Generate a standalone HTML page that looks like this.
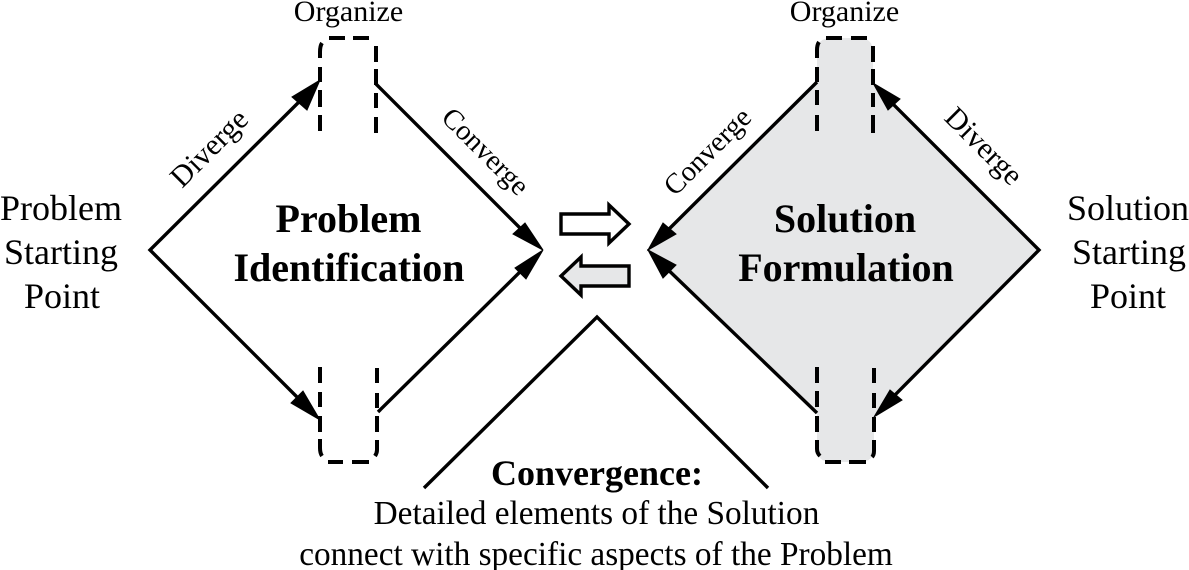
<!DOCTYPE html>
<html><head><meta charset="utf-8"><style>
html,body{margin:0;padding:0;background:#fff}
svg{display:block}
text{font-family:"Liberation Serif",serif;fill:#000}
</style></head><body>
<svg width="1189" height="570" viewBox="0 0 1189 570" xmlns="http://www.w3.org/2000/svg">
<!-- right fill -->
<path d="M648 250L817 82V52Q817 38 831 38H859Q873 38 873 52V84L1039 250L874 416V448Q874 462 860 462H831Q817 462 817 448V413Z" fill="#e6e7e8"/>
<!-- lines -->
<g fill="none" stroke="#000" stroke-width="3.4">
<path d="M310 91L150 250L310 410"/>
<path d="M376 84L530 238M530 262L378 412"/>
<path d="M817 82L660 238M660 262L817 413"/>
<path d="M885 96L1039 250L886 404"/>
<path d="M424 488L597 317L768 488"/>
</g>
<!-- arrowheads -->
<g fill="#000" stroke="#000" stroke-width="1" stroke-linejoin="miter">
<path d="M320 80L292 97L307 110Z"/>
<path d="M320 420L291 403L303 391Z"/>
<path d="M543 250L513 234L525 223Z"/>
<path d="M543 250L515 268L526 279Z"/>
<path d="M648 250L663 223L676 234Z"/>
<path d="M648 250L676 265L663 278Z"/>
<path d="M873 83L900 99L888 110Z"/>
<path d="M874 417L890 390L902 400Z"/>
</g>
<!-- dashed -->
<g fill="none" stroke="#000" stroke-width="4">
<path d="M320 67V82M320 90V107M320 115V131M320 58V52Q320 46 322 43"/>
<path d="M329 38H345M353 38H369"/>
<path d="M376 46V62M376 69V85M376 93V108M376 117V133"/>
<path d="M320 367V383M320 392V407M320 416V432M320 439V448Q320 453 322 456"/>
<path d="M328 462H343M352 462H369"/>
<path d="M377 368V383M377 393V408M377 416V432M377 440V450Q377 453 375 456"/>
<path d="M817 67V82M817 90V105M817 115V131M817 58V50Q817 45 819 42"/>
<path d="M826 38H842M851 38H867"/>
<path d="M873 46V62M873 69V85M873 93V107M873 115V133"/>
<path d="M817 367V383M817 391V407M817 416V432M817 440V449Q817 453 820 456"/>
<path d="M825 462H841M849 462H866"/>
<path d="M874 368V383M874 393V408M874 417V432M874 440V451Q874 455 872 457"/>
</g>
<!-- block arrows -->
<path d="M561 214H609V205L629 224L609 243V234H561Z" fill="#fff" stroke="#000" stroke-width="3.4"/>
<path d="M629 266H581V257L561 276L581 295V286H629Z" fill="#e6e7e8" stroke="#000" stroke-width="3.4"/>
<!-- text -->
<g font-size="36" text-anchor="middle">
<text x="61" y="220">Problem</text>
<text x="61" y="264">Starting</text>
<text x="62" y="308">Point</text>
<text x="1128" y="220">Solution</text>
<text x="1129" y="264">Starting</text>
<text x="1128" y="308">Point</text>
</g>
<g font-size="30" text-anchor="middle">
<text x="348.5" y="21">Organize</text>
<text x="844.5" y="21">Organize</text>
<text transform="translate(216,155) rotate(-45)">Diverge</text>
<text transform="translate(977,153) rotate(45)">Diverge</text>
</g>
<g font-size="28.5" text-anchor="middle">
<text transform="translate(479,158) rotate(45)">Converge</text>
<text transform="translate(714,158) rotate(-45)">Converge</text>
</g>
<g font-size="40" font-weight="bold" text-anchor="middle">
<text x="348.5" y="232">Problem</text>
<text x="349" y="281">Identification</text>
<text x="845" y="232">Solution</text>
<text x="846" y="281">Formulation</text>
</g>
<text x="597" y="485" font-size="36" font-weight="bold" text-anchor="middle">Convergence:</text>
<text x="596.5" y="524" font-size="33.3" text-anchor="middle">Detailed elements of the Solution</text>
<text x="596" y="565" font-size="33.3" text-anchor="middle">connect with specific aspects of the Problem</text>
</svg>
</body></html>
